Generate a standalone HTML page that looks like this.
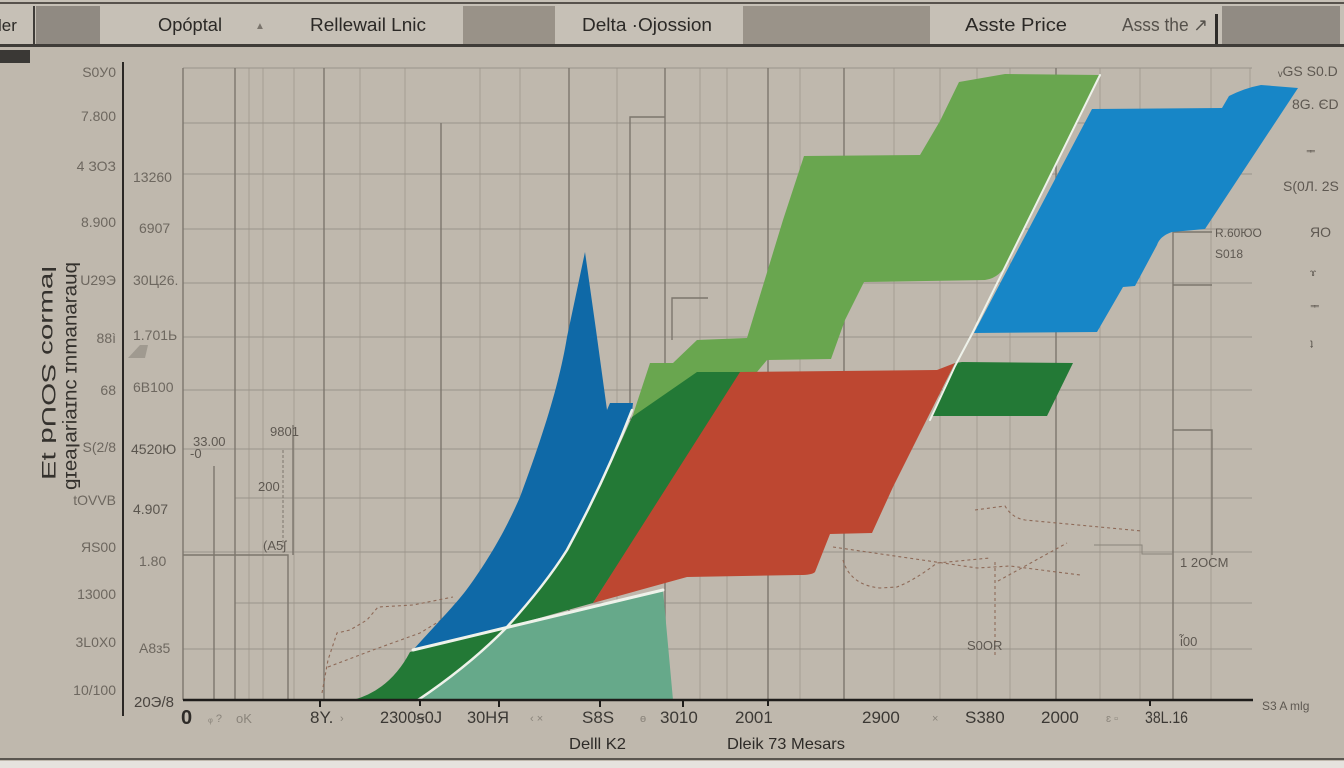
<!DOCTYPE html>
<html><head><meta charset="utf-8"><style>
html,body{margin:0;padding:0;background:#bfb8ad;}
svg{display:block;}
text{font-family:"Liberation Sans",sans-serif;}
</style></head><body>
<svg width="1344" height="768" viewBox="0 0 1344 768" xmlns="http://www.w3.org/2000/svg">
<rect x="0" y="0" width="1344" height="768" fill="#bfb8ad"/>
<!-- header -->
<rect x="0" y="0" width="1344" height="46" fill="#c6c0b6"/>
<rect x="0" y="2" width="1344" height="2" fill="#57524c"/>
<rect x="0" y="44" width="1344" height="3" fill="#3f3c38"/>
<rect x="33" y="6" width="2" height="38" fill="#3f3c38"/>
<rect x="36" y="6" width="64" height="38" fill="#908a82"/>
<rect x="463" y="6" width="92" height="38" fill="#999288"/>
<rect x="743" y="6" width="187" height="38" fill="#9a9389"/>
<rect x="1215" y="14" width="3" height="30" fill="#2e2c29"/>
<rect x="1222" y="6" width="118" height="38" fill="#918b83"/>
<g fill="#2b2926" font-size="18">
<text x="-2" y="31" font-size="17">ler</text>
<text x="158" y="31" textLength="64" lengthAdjust="spacingAndGlyphs">Opóptal</text>
<text x="255" y="29" font-size="10" fill="#7a746c">▲</text>
<text x="310" y="31" textLength="116" lengthAdjust="spacingAndGlyphs">Rellewail Lnic</text>
<text x="582" y="31" textLength="130" lengthAdjust="spacingAndGlyphs">Delta ·Ojossion</text>
<text x="965" y="31" textLength="102" lengthAdjust="spacingAndGlyphs">Asste Price</text>
<text x="1122" y="31" fill="#55514b" textLength="86" lengthAdjust="spacingAndGlyphs">Asss the ↗</text>
</g>
<rect x="0" y="50" width="30" height="13" fill="#3a3835"/>

<!-- grid light verticals -->
<g stroke="#a59e93" stroke-width="1">
<line x1="249" y1="68" x2="249" y2="700"/><line x1="263" y1="68" x2="263" y2="700"/>
<line x1="294" y1="68" x2="294" y2="700"/><line x1="360" y1="68" x2="360" y2="700"/>
<line x1="405" y1="68" x2="405" y2="700"/><line x1="480" y1="68" x2="480" y2="700"/>
<line x1="520" y1="68" x2="520" y2="700"/><line x1="617" y1="68" x2="617" y2="700"/>
<line x1="700" y1="68" x2="700" y2="700"/><line x1="727" y1="68" x2="727" y2="700"/>
<line x1="800" y1="68" x2="800" y2="700"/><line x1="894" y1="68" x2="894" y2="700"/>
<line x1="940" y1="68" x2="940" y2="700"/><line x1="977" y1="68" x2="977" y2="700"/>
<line x1="1010" y1="68" x2="1010" y2="700"/><line x1="1100" y1="68" x2="1100" y2="700"/>
<line x1="1140" y1="68" x2="1140" y2="700"/><line x1="1211" y1="68" x2="1211" y2="700"/>
<line x1="1250" y1="68" x2="1250" y2="120"/>
</g>
<!-- horizontals -->
<g stroke="#9a938a" stroke-width="1">
<line x1="183" y1="68" x2="1252" y2="68"/><line x1="183" y1="123" x2="1252" y2="123"/>
<line x1="183" y1="174" x2="1252" y2="174"/><line x1="183" y1="229" x2="1260" y2="229"/>
<line x1="183" y1="283" x2="1252" y2="283"/><line x1="183" y1="337" x2="1252" y2="337"/>
<line x1="183" y1="390" x2="1252" y2="390"/><line x1="183" y1="449" x2="1252" y2="449"/>
<line x1="235" y1="498" x2="1252" y2="498"/><line x1="183" y1="552" x2="1252" y2="552"/>
<line x1="235" y1="603" x2="1252" y2="603"/><line x1="183" y1="649" x2="1252" y2="649"/>
</g>
<!-- dark verticals -->
<g stroke="#7c766d" stroke-width="1.4" fill="none">
<line x1="183" y1="68" x2="183" y2="700"/><line x1="235" y1="68" x2="235" y2="700"/>
<line x1="324" y1="68" x2="324" y2="700"/><line x1="441" y1="123" x2="441" y2="700"/>
<line x1="569" y1="68" x2="569" y2="700"/><polyline points="665,117 630,117 630,420"/>
<line x1="665" y1="68" x2="665" y2="700"/><line x1="768" y1="68" x2="768" y2="700"/>
<line x1="844" y1="68" x2="844" y2="700"/><line x1="1056" y1="68" x2="1056" y2="700"/>
<polyline points="1212,232 1173,232 1173,700"/><line x1="1173" y1="285" x2="1212" y2="285"/>
<polyline points="1173,430 1212,430 1212,555"/>
<line x1="214" y1="466" x2="214" y2="700"/><polyline points="183,555 288,555 288,700"/>
<line x1="293" y1="425" x2="293" y2="555"/>
<polyline points="672,340 672,298 708,298"/>
</g>
<line x1="283" y1="450" x2="283" y2="547" stroke="#7c766d" stroke-dasharray="3 2"/>

<!-- dashed brown lines -->
<g stroke="#8e6a58" stroke-width="1.1" fill="none" stroke-dasharray="3 3">
<path d="M322,693 L328,660 L337,633 L350,630 L367,620 L378,607 L413,605 L453,597"/>
<path d="M328,667 L373,650 L420,633 L453,613 L470,600"/>
<path d="M975,510 L1005,506 Q1012,518 1025,520 L1142,531"/>
<path d="M833,547 L977,568 L1010,566 L1080,575"/>
<path d="M843,560 Q850,585 880,588 L897,587 Q915,580 937,563 L990,558"/>
<path d="M998,581 L1067,543"/>
<line x1="995" y1="562" x2="995" y2="655"/>
</g>
<g stroke="#8a847a" stroke-width="1" fill="none">
<polyline points="1094,545 1142,545 1142,554 1173,554"/>
</g>

<!-- shapes -->
<path d="M959,82 L1005,74 L1100,75 L1009,259 Q1001,278 985,280 L864,282 L845,320 L831,359 L767,360 L757,372 L697,373 L627,433 L650,363 L673,363 L697,340 L747,338 L783,220 L804,156 L920,155 L940,121 Z" fill="#69a64f"/>
<path d="M697,372 L742,372 L593,603 L507,627 Q545,585 567,550 Q600,490 632,417 Z" fill="#237936"/>
<path d="M410,652 L507,627 Q470,665 420,700 L353,700 Q390,690 410,652 Z" fill="#237936"/>
<path d="M420,700 Q470,665 507,627 L663,590 L673,700 Z" fill="#66a98a"/>
<path d="M740,372 L937,370 L955,363 L893,487 L872,533 L830,534 L815,572 Q812,575 800,575 L687,577 L593,603 Z" fill="#bd4731"/>
<path d="M413,650 C440,620 458,602 470,585 C495,550 510,520 520,497 C545,430 560,380 567,337 L585,252 L596,330 L607,410 L610,403 L633,403 L632,412 Q600,485 567,550 Q540,590 507,627 Z" fill="#0f69a7"/>
<path d="M955,363 L962,362 L1073,363 L1047,416 L931,416 Z" fill="#237936"/>
<path d="M1092,109 L1222,108 L1229,96 Q1245,88 1261,85 L1298,88 L1205,229 L1172,232 Q1160,236 1157,245 L1135,286 L1123,287 L1097,332 L974,333 Z" fill="#1786c7"/>
<!-- white lines -->
<g stroke="#eef2ea" fill="none" stroke-linecap="round">
<path d="M413,650 L663,590" stroke-width="3"/>
<path d="M418,700 Q470,665 507,627 Q545,585 567,550 Q605,480 632,410" stroke-width="2.5"/>
<path d="M1100,75 L972,334 L955,366 L930,420" stroke-width="2"/>
</g>

<!-- axes -->
<line x1="123" y1="62" x2="123" y2="716" stroke="#2a2724" stroke-width="2"/>
<line x1="183" y1="700" x2="1253" y2="700" stroke="#1e1c1a" stroke-width="2.5"/>
<g stroke="#1e1c1a" stroke-width="2">
<line x1="320" y1="700" x2="320" y2="707"/><line x1="420" y1="700" x2="420" y2="706"/>
<line x1="499" y1="700" x2="499" y2="707"/><line x1="600" y1="700" x2="600" y2="707"/>
<line x1="683" y1="700" x2="683" y2="707"/><line x1="768" y1="700" x2="768" y2="706"/>
<line x1="1150" y1="700" x2="1150" y2="706"/>
</g>
<path d="M128,358 L140,345 L148,345 L145,358 Z" fill="#a09a90"/>

<!-- y labels column 1 -->
<g fill="#6d675f" font-size="14" text-anchor="end">
<text x="116" y="77">S0У0</text><text x="116" y="121">7.800</text>
<text x="116" y="171">4 ЗОЗ</text><text x="116" y="227">8.900</text>
<text x="116" y="285">U29Э</text><text x="116" y="343">88ì</text>
<text x="116" y="395">68</text><text x="116" y="452">S(2/8</text>
<text x="116" y="505">tOVVB</text><text x="116" y="552">ЯS00</text>
<text x="116" y="599">13000</text><text x="116" y="647">3L0X0</text>
<text x="116" y="695">10/100</text>
</g>
<!-- y labels column 2 -->
<g fill="#6d675f" font-size="14">
<text x="133" y="182">13260</text><text x="139" y="233">6907</text>
<text x="133" y="285">30Ц26.</text><text x="133" y="340">1.701Ь</text>
<text x="133" y="392">6B100</text><text x="131" y="454" fill="#5a554e">4520Ю</text>
<text x="133" y="514" fill="#5a554e">4.907</text><text x="139" y="566">1.80</text>
<text x="139" y="653">A8з5</text><text x="134" y="707" fill="#4a4540" font-size="15">20Э/8</text>
</g>
<!-- rotated axis title -->
<g fill="#34312d" font-size="19">
<text transform="translate(42,266) rotate(90)" textLength="214" lengthAdjust="spacingAndGlyphs">lɐɯɹoɔ SOUd ʇƎ</text>
<text transform="translate(66,262) rotate(90)" textLength="228" lengthAdjust="spacingAndGlyphs">bnɐɹɐuɐɯuɪ ɔuɪɐᴉɹɐIɐǝɪƃ</text>
</g>
<!-- in-plot labels -->
<g fill="#5e5851" font-size="13">
<text x="193" y="446">33.00</text><text x="190" y="458">-0</text>
<text x="270" y="436">9801</text><text x="258" y="491">200</text>
<text x="263" y="550">(A5ʃ</text>
<text x="1215" y="237" font-size="12">R.60ЮO</text><text x="1215" y="258" font-size="12">S018</text>
<text x="1180" y="567">1 2OCM</text><text x="967" y="650">S0OR</text>
<text x="1180" y="646">ἶ00</text>
</g>
<!-- right labels -->
<g fill="#5e5851" font-size="14">
<text x="1278" y="76">ᵥGS S0.D</text><text x="1292" y="109">8G. ЄD</text>
<text x="1306" y="155" font-size="10">ᆍ</text>
<text x="1283" y="191">S(0Л. 2S</text><text x="1310" y="237">ЯO</text>
<text x="1310" y="276" font-size="10">ɤ</text><text x="1310" y="310" font-size="10">ᆍ</text>
<text x="1310" y="348" font-size="11">ʇ</text>
<text x="1262" y="710" font-size="12">S3 A mlg</text>
</g>
<!-- x labels -->
<g fill="#3b3834" font-size="17">
<text x="181" y="724" font-size="20" font-weight="bold" fill="#2e2b28">0</text>
<text x="208" y="722" font-size="11" fill="#8a847b">ᵩ  ?</text>
<text x="236" y="723" font-size="13" fill="#8a847b">oK</text>
<text x="310" y="723">8Y.</text>
<text x="340" y="722" font-size="11" fill="#8a847b">›</text>
<text x="380" y="723" textLength="62" lengthAdjust="spacingAndGlyphs">2300ꞩ0J</text>
<text x="467" y="723" textLength="42" lengthAdjust="spacingAndGlyphs">30НЯ</text>
<text x="530" y="722" font-size="11" fill="#8a847b">‹ ×</text>
<text x="582" y="723">S8S</text>
<text x="640" y="722" font-size="11" fill="#8a847b">ɵ</text>
<text x="660" y="723">3010</text>
<text x="735" y="723">2001</text>
<text x="862" y="723">2900</text>
<text x="932" y="722" font-size="11" fill="#8a847b">×</text>
<text x="965" y="723">S380</text>
<text x="1041" y="723">2000</text>
<text x="1106" y="722" font-size="11" fill="#8a847b">ɛ  ▫</text>
<text x="1145" y="723" textLength="43" lengthAdjust="spacingAndGlyphs">38L.16</text>
</g>
<g fill="#2e2b28" font-size="16">
<text x="569" y="749" textLength="57" lengthAdjust="spacingAndGlyphs">Delll K2</text>
<text x="727" y="749" textLength="118" lengthAdjust="spacingAndGlyphs">Dleik 73 Mesars</text>
</g>
<!-- bottom border -->
<rect x="0" y="758" width="1344" height="2" fill="#5a5650"/>
<rect x="0" y="761" width="1344" height="7" fill="#e6e3de"/>
</svg>
</body></html>
